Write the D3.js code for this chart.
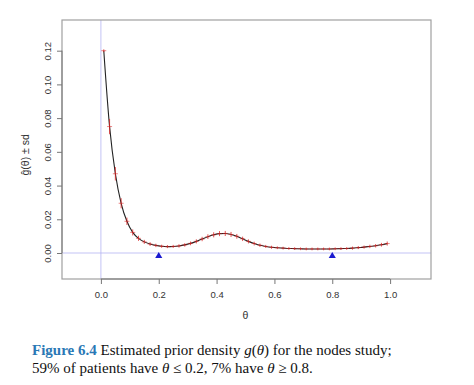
<!DOCTYPE html>
<html>
<head>
<meta charset="utf-8">
<script src="https://cdn.jsdelivr.net/npm/d3@7"></script>
<style>
  body { margin: 0; background: #fff; }
  svg { display: block; }
</style>
</head>
<body>
<div id="chart"></div>
<script>
// grid of theta values and estimated density g(theta) with sd
const thetas = [0.01, 0.03, 0.05, 0.07, 0.09, 0.11, 0.13, 0.15, 0.17, 0.19,
                0.21, 0.23, 0.25, 0.27, 0.29, 0.31, 0.33, 0.35, 0.37, 0.39,
                0.41, 0.43, 0.45, 0.47, 0.49, 0.51, 0.53, 0.55, 0.57, 0.59,
                0.61, 0.63, 0.65, 0.67, 0.69, 0.71, 0.73, 0.75, 0.77, 0.79,
                0.81, 0.83, 0.85, 0.87, 0.89, 0.91, 0.93, 0.95, 0.97, 0.99];
const gHat = [0.1200, 0.0750, 0.0470, 0.0295, 0.0188, 0.0122, 0.0087, 0.0066, 0.0053, 0.0045,
              0.0040, 0.0038, 0.0039, 0.0042, 0.0048, 0.0057, 0.0069, 0.0083, 0.0097, 0.0108,
              0.0115, 0.0116, 0.0110, 0.0099, 0.0084, 0.0069, 0.0056, 0.0046, 0.0039, 0.0034,
              0.0031, 0.0029, 0.0027, 0.0026, 0.0025, 0.0024, 0.0024, 0.0024, 0.0024, 0.0024,
              0.0025, 0.0026, 0.0027, 0.0029, 0.0032, 0.0035, 0.0039, 0.0043, 0.0049, 0.0056];
const sd = [0.0008, 0.0045, 0.0040, 0.0030, 0.0022, 0.0018, 0.0015, 0.0012, 0.0011, 0.0010,
            0.0009, 0.0009, 0.0009, 0.0010, 0.0010, 0.0011, 0.0012, 0.0013, 0.0014, 0.0015,
            0.0015, 0.0015, 0.0015, 0.0014, 0.0013, 0.0012, 0.0011, 0.0010, 0.0009, 0.0009,
            0.0008, 0.0008, 0.0008, 0.0008, 0.0008, 0.0008, 0.0008, 0.0008, 0.0008, 0.0008,
            0.0008, 0.0008, 0.0008, 0.0009, 0.0009, 0.0009, 0.0010, 0.0010, 0.0011, 0.0012];

const markers = [0.2, 0.8];
const xTicks = [0.0, 0.2, 0.4, 0.6, 0.8, 1.0];
const yTicks = [0.00, 0.02, 0.04, 0.06, 0.08, 0.10, 0.12];

const width = 474;
const height = 385;
const box = {left: 62, right: 431, top: 20, bottom: 279};

const svg = d3.select("#chart")
    .append("svg")
    .attr("width", width)
    .attr("height", height);

const x = d3.scaleLinear().domain([-0.1345, 1.1414]).range([box.left, box.right]);
const y = d3.scaleLinear().domain([-0.01542, 0.1382]).range([box.bottom, box.top]);

const data = thetas.map((t, i) => ({t: t, g: gHat[i], sd: sd[i]}));

// reference lines at 0
svg.append("line")
    .attr("x1", x(0)).attr("x2", x(0))
    .attr("y1", box.top).attr("y2", box.bottom)
    .attr("stroke", "#b4b4f2").attr("stroke-width", 0.8);
svg.append("line")
    .attr("x1", box.left).attr("x2", box.right)
    .attr("y1", y(0)).attr("y2", y(0))
    .attr("stroke", "#b4b4f2").attr("stroke-width", 0.8);

// plot box
svg.append("rect")
    .attr("x", box.left).attr("y", box.top)
    .attr("width", box.right - box.left).attr("height", box.bottom - box.top)
    .attr("fill", "none").attr("stroke", "#a0a0a0").attr("stroke-width", 1.2);

// axes
const xAxis = d3.axisBottom(x).tickValues(xTicks).tickSize(5).tickPadding(7)
    .tickFormat(d3.format(".1f"));
const gx = svg.append("g")
    .attr("transform", `translate(0, ${box.bottom})`)
    .call(xAxis);

const yAxis = d3.axisLeft(y).tickValues(yTicks).tickSize(5).tickPadding(0)
    .tickFormat(d3.format(".2f"));
const gy = svg.append("g")
    .attr("transform", `translate(${box.left}, 0)`)
    .call(yAxis);

[gx, gy].forEach(g => {
    g.select(".domain").attr("stroke", "#777");
    g.selectAll(".tick line").attr("stroke", "#777");
    g.selectAll("text")
        .attr("fill", "#333")
        .style("font-family", "'Liberation Sans', Arial, sans-serif")
        .style("font-size", "9.5px");
});
gx.select(".domain").attr("d", `M${x(0)},0V0H${x(1)}V0`);
gy.select(".domain").attr("d", `M0,${y(0)}H0V${y(0.12)}H0`);

gy.selectAll(".tick text")
    .attr("x", null).attr("dy", null)
    .attr("transform", "translate(-11, 0) rotate(-90)")
    .attr("text-anchor", "middle")
    .attr("dominant-baseline", "auto")
    .attr("y", 0);

// axis titles
svg.append("text")
    .attr("x", x(0.5)).attr("y", 319)
    .attr("text-anchor", "middle")
    .attr("fill", "#333")
    .style("font-family", "'Liberation Sans', Arial, sans-serif")
    .style("font-size", "10.5px")
    .text("θ");

svg.append("text")
    .attr("transform", `translate(29, ${y(0.06) + 3}) rotate(-90)`)
    .attr("text-anchor", "middle")
    .attr("fill", "#333")
    .style("font-family", "'Liberation Sans', Arial, sans-serif")
    .style("font-size", "10.5px")
    .text("ĝ(θ) ± sd");

// density curve
const line = d3.line()
    .x(d => x(d.t))
    .y(d => y(d.g))
    .curve(d3.curveMonotoneX);

svg.append("path")
    .datum(data)
    .attr("d", line)
    .attr("fill", "none")
    .attr("stroke", "#222")
    .attr("stroke-width", 1.1);

// error bars drawn over the curve as red crosses
svg.append("g")
    .selectAll("line.err")
    .data(data)
    .join("line")
    .attr("class", "err")
    .attr("x1", d => x(d.t)).attr("x2", d => x(d.t))
    .attr("y1", d => y(d.g - d.sd)).attr("y2", d => y(d.g + d.sd))
    .attr("stroke", "#dd2222").attr("stroke-width", 0.9)
    .attr("opacity", 0.85);

svg.append("g")
    .selectAll("line.tick-h")
    .data(data)
    .join("line")
    .attr("class", "tick-h")
    .attr("x1", d => x(d.t) - 2.5).attr("x2", d => x(d.t) + 2.5)
    .attr("y1", d => y(d.g)).attr("y2", d => y(d.g))
    .attr("stroke", "#dd2222").attr("stroke-width", 0.9)
    .attr("opacity", 0.6);

// triangles at 0.2 and 0.8
svg.append("g")
    .selectAll("path")
    .data(markers)
    .join("path")
    .attr("transform", d => `translate(${x(d)}, ${y(0) + 3})`)
    .attr("d", d3.symbol().type(d3.symbolTriangle).size(22))
    .attr("fill", "#1a1ad0");

// caption
const cap = svg.append("text")
    .style("font-family", "'Liberation Serif', 'Times New Roman', serif")
    .style("font-size", "15px")
    .attr("fill", "#111");

const l1 = cap.append("tspan").attr("x", 32).attr("y", 355);
l1.append("tspan").attr("fill", "#2a78b5").attr("font-weight", "bold").text("Figure 6.4");
l1.append("tspan").text(" Estimated prior density ");
l1.append("tspan").attr("font-style", "italic").text("g");
l1.append("tspan").text("(");
l1.append("tspan").attr("font-style", "italic").text("θ");
l1.append("tspan").text(") for the nodes study;");

const l2 = cap.append("tspan").attr("x", 32).attr("y", 372.5);
l2.append("tspan").text("59% of patients have ");
l2.append("tspan").attr("font-style", "italic").text("θ");
l2.append("tspan").text(" ≤ 0.2, 7% have ");
l2.append("tspan").attr("font-style", "italic").text("θ");
l2.append("tspan").text(" ≥ 0.8.");
</script>
</body>
</html>
